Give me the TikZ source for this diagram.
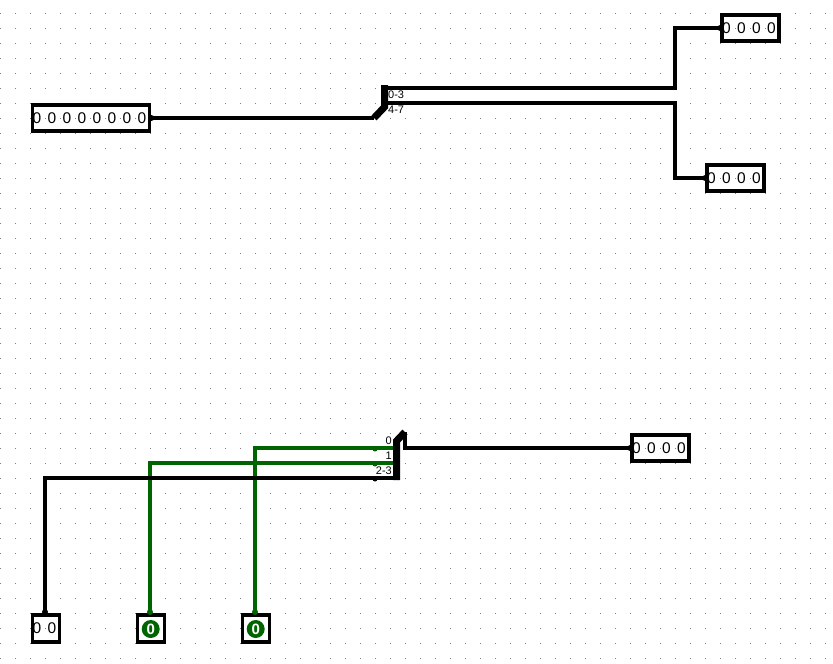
\documentclass[tikz,border=0pt]{standalone}
\usepackage{fontspec}
\setmainfont{Liberation Sans}
\newcommand{\valfont}{\fontsize{15.5}{15.5}\selectfont\spaceskip=6.4pt\relax}
\newcommand{\tinyfont}{\fontsize{11}{11}\selectfont}
\definecolor{wiregreen}{RGB}{0,100,0}
\tikzset{
  pinbox/.style={draw, line width=3.6pt, minimum height=26.5pt, inner sep=0pt, font=\valfont, execute at end node={\hspace{3pt}}},
  wire/.style={line width=4pt, line join=miter},
  greenwire/.style={wire, wiregreen},
  splitbar/.style={line width=7pt},
  portlabel/.style={font=\tinyfont, inner sep=0pt},
  bit/.style={circle, fill=wiregreen, text=white, minimum size=18pt, inner sep=0pt, font=\bfseries\fontsize{15}{15}\selectfont}
}
\begin{document}
\begin{tikzpicture}[x=1pt,y=-1pt]
\useasboundingbox (0,0) rectangle (833,664);
\fill[white] (0,0) rectangle (833,664);
\foreach \i in {0,...,55}
  \foreach \j in {0,...,43}
    \fill[gray] (15*\i-0.5,13+15*\j-0.5) rectangle +(1,1);

% upper splitter
\node[pinbox, minimum width=117pt] (inbyte) at (91,118) {0 0 0 0 0 0 0 0};
\node[pinbox, minimum width=57pt] (highout) at (750.5,28) {0 0 0 0};
\node[pinbox, minimum width=57pt] (lowout) at (735.5,178) {0 0 0 0};
\coordinate (splitjoin) at (374,118);
\coordinate (splittop) at (384.5,85);
\coordinate (splitknee) at (384.5,107);
\coordinate (porta) at (384,88);
\coordinate (portb) at (384,103);
\draw[wire] (inbyte.east) -- (splitjoin);
\draw[splitbar] (splitjoin) -- (splitknee) -- (splittop);
\draw[wire] (porta) -- (675,88) -- (675,28) -- (highout.west);
\draw[wire] (portb) -- (675,103) -- (675,178) -- (lowout.west);
\node[portlabel, anchor=west] (labela) at (388,95) {0-3};
\node[portlabel, anchor=west] (labelb) at (388,110) {4-7};

% lower splitter
\node[pinbox, minimum width=27pt] (pairin) at (46,628.5) {0 0};
\node[pinbox, minimum width=27pt] (bita) at (151,628.5) {};
\node[pinbox, minimum width=27pt] (bitb) at (256,628.5) {};
\node[bit] (bitaval) at (150.7,629) {0};
\node[bit] (bitbval) at (255.7,629) {0};
\node[pinbox, minimum width=57pt] (nibble) at (660.5,448) {0 0 0 0};
\coordinate (mergetop) at (405,432);
\coordinate (mergeknee) at (396.5,441);
\coordinate (mergelow) at (396.5,480);
\coordinate (mergeout) at (405,448);
\draw[greenwire] (bita.north -| 150,0) -- (150,463) -- (393,463);
\draw[greenwire] (bitb.north -| 255,0) -- (255,448) -- (393,448);
\draw[wire] (pairin.north -| 45,0) -- (45,478) -- (397,478);
\draw[splitbar] (mergelow) -- (mergeknee) -- (mergetop);
\draw[wire] (mergetop) -- (mergeout) -- (nibble.west);
\node[portlabel, anchor=east] (labelc) at (392,440.5) {0};
\node[portlabel, anchor=east] (labeld) at (392,455.5) {1};
\node[portlabel, anchor=east] (labele) at (392,470.5) {2-3};

% port ends
\foreach \p in {inbyte.east, highout.west, lowout.west, nibble.west}
  \fill (\p) circle (3pt);
\fill (45,612) circle (3pt);
\fill[wiregreen] (150,612) circle (3pt);
\fill[wiregreen] (255,612) circle (3pt);
\foreach \y in {448,463}
  \fill[wiregreen] (375,\y+1) circle (2.5pt);
\fill (375,479) circle (2.5pt);
\end{tikzpicture}
\end{document}
